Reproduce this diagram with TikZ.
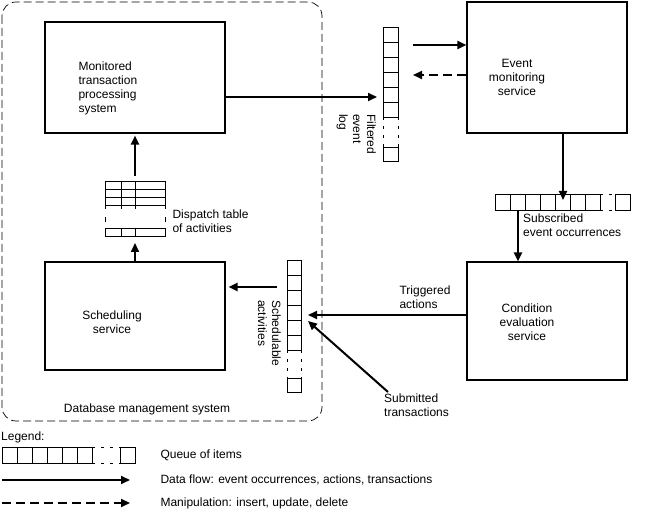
\documentclass[tikz,border=0pt]{standalone}
\usepackage{fontspec}
\setmainfont{Liberation Sans}
\usetikzlibrary{arrows.meta}
\begin{document}
\begin{tikzpicture}[x=1pt,y=-1pt,font=\fontsize{12}{14}\selectfont,
  box/.style={draw,line width=1.1pt,inner sep=0pt},
  flow/.style={line width=2pt,-{Triangle[length=9pt,width=8pt]}},
  manip/.style={flow,dash pattern=on 9pt off 5pt},
  cell/.style={draw,line width=0.7pt},
  gapl/.style={line width=0.7pt,dash pattern=on 3pt off 6pt}]
\useasboundingbox (0,0) rectangle (646,510);
% DBMS boundary
\draw[line width=0.7pt,dash pattern=on 8pt off 4pt,rounded corners=14pt] (2,2) rectangle (322,421);
\node (dbms) at (147,409) {Database management system};
% boxes
\node[box,minimum width=180pt,minimum height=111pt] (mon) at (135,77.5) {};
\node[align=left,anchor=west] (montxt) at (75,88) {Monitored\\transaction\\processing\\system};
\node[box,minimum width=180pt,minimum height=108pt] (sch) at (135,316) {};
\node[align=center] (schtxt) at (112,322) {Scheduling\\service};
\node[box,minimum width=160pt,minimum height=131pt] (evm) at (547,67.5) {};
\node[align=center] (evmtxt) at (517,77) {Event\\monitoring\\service};
\node[box,minimum width=160pt,minimum height=118pt] (cond) at (547,321) {};
\node[align=center] (condtxt) at (527,322) {Condition\\evaluation\\service};
% filtered event log queue (vertical)
\foreach \i in {0,...,5} \draw[cell] (383,27+15*\i) rectangle (398,42+15*\i);
\draw[gapl] (383,117) -- (383,147) (398,117) -- (398,147);
\draw[cell] (383,147) rectangle (398,161);
\coordinate (fel) at (383,97);
\coordinate (felR) at (398,45);
\coordinate (felRd) at (398,75);
\node[rotate=-90,anchor=north west,align=left,inner sep=1pt] (feltxt) at (377,113) {Filtered\\event\\log};
% subscribed queue (horizontal)
\foreach \i in {0,...,6} \draw[cell] (495+15*\i,194) rectangle (510+15*\i,210);
\draw[gapl] (600,194) -- (615,194) (600,210) -- (615,210);
\draw[cell] (615,194) rectangle (630,210);
\coordinate (subT) at (563,194);
\coordinate (subB) at (518,210);
\node[align=left,anchor=north west,inner sep=1pt] (subtxt) at (522,213) {Subscribed\\event occurrences};
% schedulable queue (vertical)
\foreach \i in {0,...,5} \draw[cell] (287,260+15*\i) rectangle (301,275+15*\i);
\draw[gapl] (287,350) -- (287,378) (301,350) -- (301,378);
\draw[cell] (287,378) rectangle (301,392);
\coordinate (sqL) at (277,287);
\coordinate (sqin) at (308,315);
\coordinate (sqin2) at (308,321);
\node[rotate=-90,anchor=north west,align=left,inner sep=1pt] (sqtxt) at (282,299) {Schedulable\\activities};
% dispatch table
\foreach \y in {181,189,197,205} \draw[line width=0.7pt] (105,\y) -- (165,\y);
\foreach \x in {105,121,135,165} \draw[line width=0.7pt] (\x,181) -- (\x,209);
\foreach \x in {105,165} \draw[line width=0.7pt] (\x,217) -- (\x,222);
\draw[cell] (105,228) rectangle (165,236);
\draw[line width=0.7pt] (121,228) -- (121,236) (135,228) -- (135,236);
\coordinate (dtT) at (135,176);
\coordinate (dtB) at (135,243);
\node[align=left,anchor=west] (dttxt) at (169,221) {Dispatch table\\of activities};
% external inputs
\coordinate (subm) at (388,392);
\node[align=left,anchor=north west,inner sep=1pt] (submtxt) at (383,393) {Submitted\\transactions};
\node[align=left] (trigtxt) at (425,297) {Triggered\\actions};
% flows
\draw[flow] (mon.east |- fel) -- ([xshift=-6pt]fel);
\draw[flow] ([xshift=15pt]felR) -- (evm.west |- felR);
\draw[manip] (evm.west |- felRd) -- ([xshift=15pt]felRd);
\draw[flow] (evm.south -| subT) -- ([yshift=-6pt]subT);
\draw[flow] (subB) -- (cond.north -| subB);
\draw[flow] (cond.west |- sqin) -- (sqin);
\draw[flow] (subm) -- (sqin2);
\draw[flow] (sqL) -- ([xshift=3pt]sch.east |- sqL);
\draw[flow] (sch.north -| dtB) -- (dtB);
\draw[flow] (dtT) -- ([yshift=-2pt]mon.south -| dtT);
% legend
\node[anchor=west,inner sep=1pt] (leg) at (0,437) {Legend:};
\foreach \i in {0,...,5} \draw[cell] (2+15*\i,447) rectangle (17+15*\i,463);
\draw[gapl] (92,447) -- (120,447) (92,463) -- (120,463);
\draw[cell] (120,447) rectangle (135,463);
\node[anchor=west] (lq) at (157,455) {Queue of items};
\coordinate (l1a) at (2,480); \coordinate (l1b) at (130,480);
\draw[flow] (l1a) -- (l1b);
\node[anchor=west] (lf) at (157,480) {Data flow: event occurrences, actions, transactions};
\coordinate (l2a) at (2,503); \coordinate (l2b) at (130,503);
\draw[manip] (l2a) -- (l2b);
\node[anchor=west] (lm) at (157,503) {Manipulation: insert, update, delete};
\end{tikzpicture}
\end{document}
